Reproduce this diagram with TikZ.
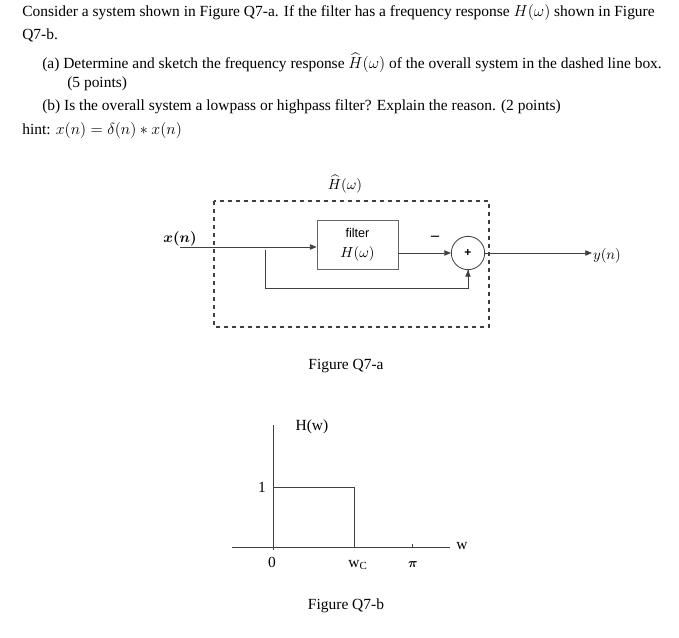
\documentclass[tikz,border=0pt]{standalone}
\usepackage{amsmath}
\usepackage{fontspec}
\setmainfont{Liberation Serif}
\newfontfamily\sansf{Liberation Sans}
\usetikzlibrary{arrows.meta}
\begin{document}
\begin{tikzpicture}[x=0.75pt,y=-0.75pt,
  txt/.style={anchor=west,inner sep=0pt,font=\fontsize{11.6pt}{13pt}\selectfont},
  mth/.style={inner sep=0pt,font=\fontsize{11pt}{13pt}\selectfont},
  ln/.style={draw=black!75,line width=0.6pt},
  arr/.style={ln,-{Triangle[length=5pt,width=4pt]}}]
\useasboundingbox (0,0) rectangle (679,638);
\node[txt] (t1) at (22,13) {Consider a system shown in Figure Q7-a. If the filter has a frequency response $H(\omega)$ shown in Figure};
\node[txt] (t2) at (22,35) {Q7-b.};
\node[txt] (t3) at (42,63) {(a) Determine and sketch the frequency response $\widehat{H}(\omega)$ of the overall system in the dashed line box.};
\node[txt] (t4) at (67,84) {(5 points)};
\node[txt] (t5) at (42,107) {(b) Is the overall system a lowpass or highpass filter? Explain the reason. (2 points)};
\node[txt] (t6) at (22,131) {hint: $x(n)=\delta(n)*x(n)$};
% block diagram
\draw[ln,dashed,line width=0.8pt] (214,201) rectangle (489,327);
\node[draw=black!60,line width=0.6pt,minimum width=60.75pt,minimum height=36.75pt,inner sep=0pt,align=center,font=\sansf\fontsize{9.5pt}{15pt}\selectfont] (f) at (357.5,244.5) {filter\\ \fontsize{11pt}{13pt}\selectfont$H(\omega)$};
\node[draw=black!75,circle,line width=0.6pt,minimum size=25pt,inner sep=0pt,font=\sansf\bfseries\small] (s) at (468,253) {+};
\coordinate (xin) at (180,247);
\coordinate (br) at (265,247);
\coordinate (bb) at (265,288);
\coordinate (yo) at (592,253);
\draw[arr] (xin) -- (f.west|-xin);
\draw[ln] (265,250) -- (bb) -| (s.south);
\draw[arr] (468,280) -- (s.south);
\draw[arr] (f.east|-s) -- (s.west);
\draw[arr] (s.east) -- (yo);
\node[mth] (xn) at (180,239) {$\boldsymbol{x(n)}$};
\node[mth] (yn) at (607,256) {$y(n)$};
\node[mth] (hh) at (345,184) {$\widehat{H}(\omega)$};
\node[font=\bfseries\large] (mn) at (435,238) {--};
\node[txt,anchor=center] (c1) at (346,366) {Figure Q7-a};
% graph
\coordinate (o) at (273,547);
\draw[ln] (273,425) -- (273,550);
\draw[ln] (232,547) -- (450,547);
\draw[ln] (273,487) -- (354,487) -- (354,547);
\draw[ln] (412,544) -- (412,547);
\node[txt,anchor=center] (hw) at (312,427) {H(w)};
\node[txt,anchor=center] (one) at (262,487) {1};
\node[txt,anchor=center] (zero) at (272,562) {0};
\node[txt,anchor=center] (wc) at (358,565) {w\textsubscript{C}};
\node[anchor=center] (pi) at (413,565) {$\boldsymbol{\pi}$};
\node[txt,anchor=center] (w) at (462,546) {w};
\node[txt,anchor=center] (c2) at (346,606) {Figure Q7-b};
\end{tikzpicture}
\end{document}
